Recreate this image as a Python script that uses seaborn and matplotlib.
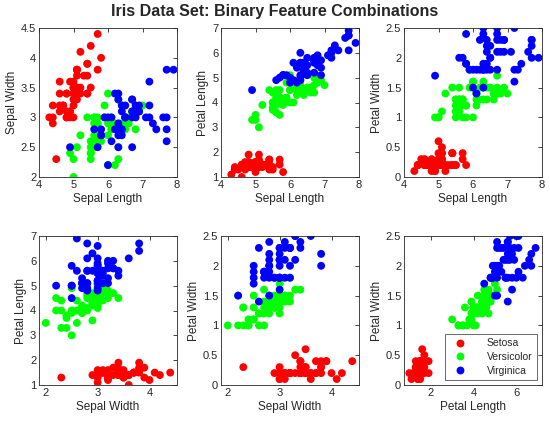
import pandas as pd
import seaborn as sns
import matplotlib.pyplot as plt

# Fisher's iris data, 50 rows per species
sepal_length = [
    5.1, 4.9, 4.7, 4.6, 5.0, 5.4, 4.6, 5.0, 4.4, 4.9, 5.4, 4.8, 4.8, 4.3, 5.8, 5.7, 5.4, 5.1, 5.7, 5.1,
    5.4, 5.1, 4.6, 5.1, 4.8, 5.0, 5.0, 5.2, 5.2, 4.7, 4.8, 5.4, 5.2, 5.5, 4.9, 5.0, 5.5, 4.9, 4.4, 5.1,
    5.0, 4.5, 4.4, 5.0, 5.1, 4.8, 5.1, 4.6, 5.3, 5.0,
    7.0, 6.4, 6.9, 5.5, 6.5, 5.7, 6.3, 4.9, 6.6, 5.2, 5.0, 5.9, 6.0, 6.1, 5.6, 6.7, 5.6, 5.8, 6.2, 5.6,
    5.9, 6.1, 6.3, 6.1, 6.4, 6.6, 6.8, 6.7, 6.0, 5.7, 5.5, 5.5, 5.8, 6.0, 5.4, 6.0, 6.7, 6.3, 5.6, 5.5,
    5.5, 6.1, 5.8, 5.0, 5.6, 5.7, 5.7, 6.2, 5.1, 5.7,
    6.3, 5.8, 7.1, 6.3, 6.5, 7.6, 4.9, 7.3, 6.7, 7.2, 6.5, 6.4, 6.8, 5.7, 5.8, 6.4, 6.5, 7.7, 7.7, 6.0,
    6.9, 5.6, 7.7, 6.3, 6.7, 7.2, 6.2, 6.1, 6.4, 7.2, 7.4, 7.9, 6.4, 6.3, 6.1, 7.7, 6.3, 6.4, 6.0, 6.9,
    6.7, 6.9, 5.8, 6.8, 6.7, 6.7, 6.3, 6.5, 6.2, 5.9,
]
sepal_width = [
    3.5, 3.0, 3.2, 3.1, 3.6, 3.9, 3.4, 3.4, 2.9, 3.1, 3.7, 3.4, 3.0, 3.0, 4.0, 4.4, 3.9, 3.5, 3.8, 3.8,
    3.4, 3.7, 3.6, 3.3, 3.4, 3.0, 3.4, 3.5, 3.4, 3.2, 3.1, 3.4, 4.1, 4.2, 3.1, 3.2, 3.5, 3.6, 3.0, 3.4,
    3.5, 2.3, 3.2, 3.5, 3.8, 3.0, 3.8, 3.2, 3.7, 3.3,
    3.2, 3.2, 3.1, 2.3, 2.8, 2.8, 3.3, 2.4, 2.9, 2.7, 2.0, 3.0, 2.2, 2.9, 2.9, 3.1, 3.0, 2.7, 2.2, 2.5,
    3.2, 2.8, 2.5, 2.8, 2.9, 3.0, 2.8, 3.0, 2.9, 2.6, 2.4, 2.4, 2.7, 2.7, 3.0, 3.4, 3.1, 2.3, 3.0, 2.5,
    2.6, 3.0, 2.6, 2.3, 2.7, 3.0, 2.9, 2.9, 2.5, 2.8,
    3.3, 2.7, 3.0, 2.9, 3.0, 3.0, 2.5, 2.9, 2.5, 3.6, 3.2, 2.7, 3.0, 2.5, 2.8, 3.2, 3.0, 3.8, 2.6, 2.2,
    3.2, 2.8, 2.8, 2.7, 3.3, 3.2, 2.8, 3.0, 2.8, 3.0, 2.8, 3.8, 2.8, 2.8, 2.6, 3.0, 3.4, 3.1, 3.0, 3.1,
    3.1, 3.1, 2.7, 3.2, 3.3, 3.0, 2.5, 3.0, 3.4, 3.0,
]
petal_length = [
    1.4, 1.4, 1.3, 1.5, 1.4, 1.7, 1.4, 1.5, 1.4, 1.5, 1.5, 1.6, 1.4, 1.1, 1.2, 1.5, 1.3, 1.4, 1.7, 1.5,
    1.7, 1.5, 1.0, 1.7, 1.9, 1.6, 1.6, 1.5, 1.4, 1.6, 1.6, 1.5, 1.5, 1.4, 1.5, 1.2, 1.3, 1.4, 1.3, 1.5,
    1.3, 1.3, 1.3, 1.6, 1.9, 1.4, 1.6, 1.4, 1.5, 1.4,
    4.7, 4.5, 4.9, 4.0, 4.6, 4.5, 4.7, 3.3, 4.6, 3.9, 3.5, 4.2, 4.0, 4.7, 3.6, 4.4, 4.5, 4.1, 4.5, 3.9,
    4.8, 4.0, 4.9, 4.7, 4.3, 4.4, 4.8, 5.0, 4.5, 3.5, 3.8, 3.7, 3.9, 5.1, 4.5, 4.5, 4.7, 4.4, 4.1, 4.0,
    4.4, 4.6, 4.0, 3.3, 4.2, 4.2, 4.2, 4.3, 3.0, 4.1,
    6.0, 5.1, 5.9, 5.6, 5.8, 6.6, 4.5, 6.3, 5.8, 6.1, 5.1, 5.3, 5.5, 5.0, 5.1, 5.3, 5.5, 6.7, 6.9, 5.0,
    5.7, 4.9, 6.7, 4.9, 5.7, 6.0, 4.8, 4.9, 5.6, 5.8, 6.1, 6.4, 5.6, 5.1, 5.6, 6.1, 5.6, 5.5, 4.8, 5.4,
    5.6, 5.1, 5.1, 5.9, 5.7, 5.2, 5.0, 5.2, 5.4, 5.1,
]
petal_width = [
    0.2, 0.2, 0.2, 0.2, 0.2, 0.4, 0.3, 0.2, 0.2, 0.1, 0.2, 0.2, 0.1, 0.1, 0.2, 0.4, 0.4, 0.3, 0.3, 0.3,
    0.2, 0.4, 0.2, 0.5, 0.2, 0.2, 0.4, 0.2, 0.2, 0.2, 0.2, 0.4, 0.1, 0.2, 0.2, 0.2, 0.2, 0.1, 0.2, 0.2,
    0.3, 0.3, 0.2, 0.6, 0.4, 0.3, 0.2, 0.2, 0.2, 0.2,
    1.4, 1.5, 1.5, 1.3, 1.5, 1.3, 1.6, 1.0, 1.3, 1.4, 1.0, 1.5, 1.0, 1.4, 1.3, 1.4, 1.5, 1.0, 1.5, 1.1,
    1.8, 1.3, 1.5, 1.2, 1.3, 1.4, 1.4, 1.7, 1.5, 1.0, 1.1, 1.0, 1.2, 1.6, 1.5, 1.6, 1.5, 1.3, 1.3, 1.3,
    1.2, 1.4, 1.2, 1.0, 1.3, 1.2, 1.3, 1.3, 1.1, 1.3,
    2.5, 1.9, 2.1, 1.8, 2.2, 2.1, 1.7, 1.8, 1.8, 2.5, 2.0, 1.9, 2.1, 2.0, 2.4, 2.3, 1.8, 2.2, 2.3, 1.5,
    2.3, 2.0, 2.0, 1.8, 2.1, 1.8, 1.8, 1.8, 2.1, 1.6, 1.9, 2.0, 2.2, 1.5, 1.4, 2.3, 2.4, 1.8, 1.8, 2.1,
    2.4, 2.3, 1.9, 2.3, 2.5, 2.3, 1.9, 2.0, 2.3, 1.8,
]
species_names = ['Setosa', 'Versicolor', 'Virginica']
species = [s for s in species_names for _ in range(50)]

df = pd.DataFrame({
    'Sepal Length': sepal_length,
    'Sepal Width': sepal_width,
    'Petal Length': petal_length,
    'Petal Width': petal_width,
    'Species': species,
})

pairs = [
    ('Sepal Length', 'Sepal Width', (4, 8), (2, 4.5), [4, 5, 6, 7, 8], [2, 2.5, 3, 3.5, 4, 4.5]),
    ('Sepal Length', 'Petal Length', (4, 8), (1, 7), [4, 5, 6, 7, 8], [1, 2, 3, 4, 5, 6, 7]),
    ('Sepal Length', 'Petal Width', (4, 8), (0, 2.5), [4, 5, 6, 7, 8], [0, 0.5, 1, 1.5, 2, 2.5]),
    ('Sepal Width', 'Petal Length', (1.87, 4.53), (1, 7), [2, 3, 4], [1, 2, 3, 4, 5, 6, 7]),
    ('Sepal Width', 'Petal Width', (1.87, 4.53), (0, 2.5), [2, 3, 4], [0, 0.5, 1, 1.5, 2, 2.5]),
    ('Petal Length', 'Petal Width', (0.75, 7.2), (0, 2.5), [2, 4, 6], [0, 0.5, 1, 1.5, 2, 2.5]),
]

sns.set_style('white')
plt.rcParams['font.family'] = ['Liberation Sans', 'DejaVu Sans']
palette = {'Setosa': '#ff0000', 'Versicolor': '#00ff00', 'Virginica': '#0000ff'}
dark = '#262626'

fig = plt.figure(figsize=(5.5, 4.26), dpi=100)
W, H = 550, 426
lefts = [39, 221, 404]
tops = [28, 236]
aw, ah = 138, 149

for i, (xc, yc, xl, yl, xt, yt) in enumerate(pairs):
    r, c = divmod(i, 3)
    ax = fig.add_axes([lefts[c] / W, 1 - (tops[r] + ah) / H, aw / W, ah / H])
    sns.scatterplot(data=df, x=xc, y=yc, hue='Species', palette=palette, s=32,
                    linewidth=0, ax=ax, legend=(i == 5))
    ax.set_xlim(xl)
    ax.set_ylim(yl)
    ax.set_xticks(xt)
    ax.set_yticks(yt)
    ax.set_xticklabels([f'{v:g}' for v in xt])
    ax.set_yticklabels([f'{v:g}' for v in yt])
    ax.set_xlabel(xc, fontsize=8.5, color=dark, labelpad=2)
    ax.set_ylabel(yc, fontsize=8.5, color=dark, labelpad=2)
    ax.tick_params(direction='in', length=3, width=0.6, colors=dark, labelsize=8,
                   top=True, right=True, pad=2)
    for sp in ax.spines.values():
        sp.set_color(dark)
        sp.set_linewidth(0.6)
    if i == 5:
        leg = ax.legend(loc='lower right', fontsize=7.5, frameon=True, fancybox=False,
                        edgecolor=dark, handletextpad=1.6, borderpad=0.4,
                        labelspacing=0.35, markerscale=1.0)
        leg.get_frame().set_linewidth(0.6)

fig.suptitle('Iris Data Set: Binary Feature Combinations', fontsize=11.5,
             fontweight='bold', y=0.99, va='top')

plt.savefig('out.png', dpi=100)
